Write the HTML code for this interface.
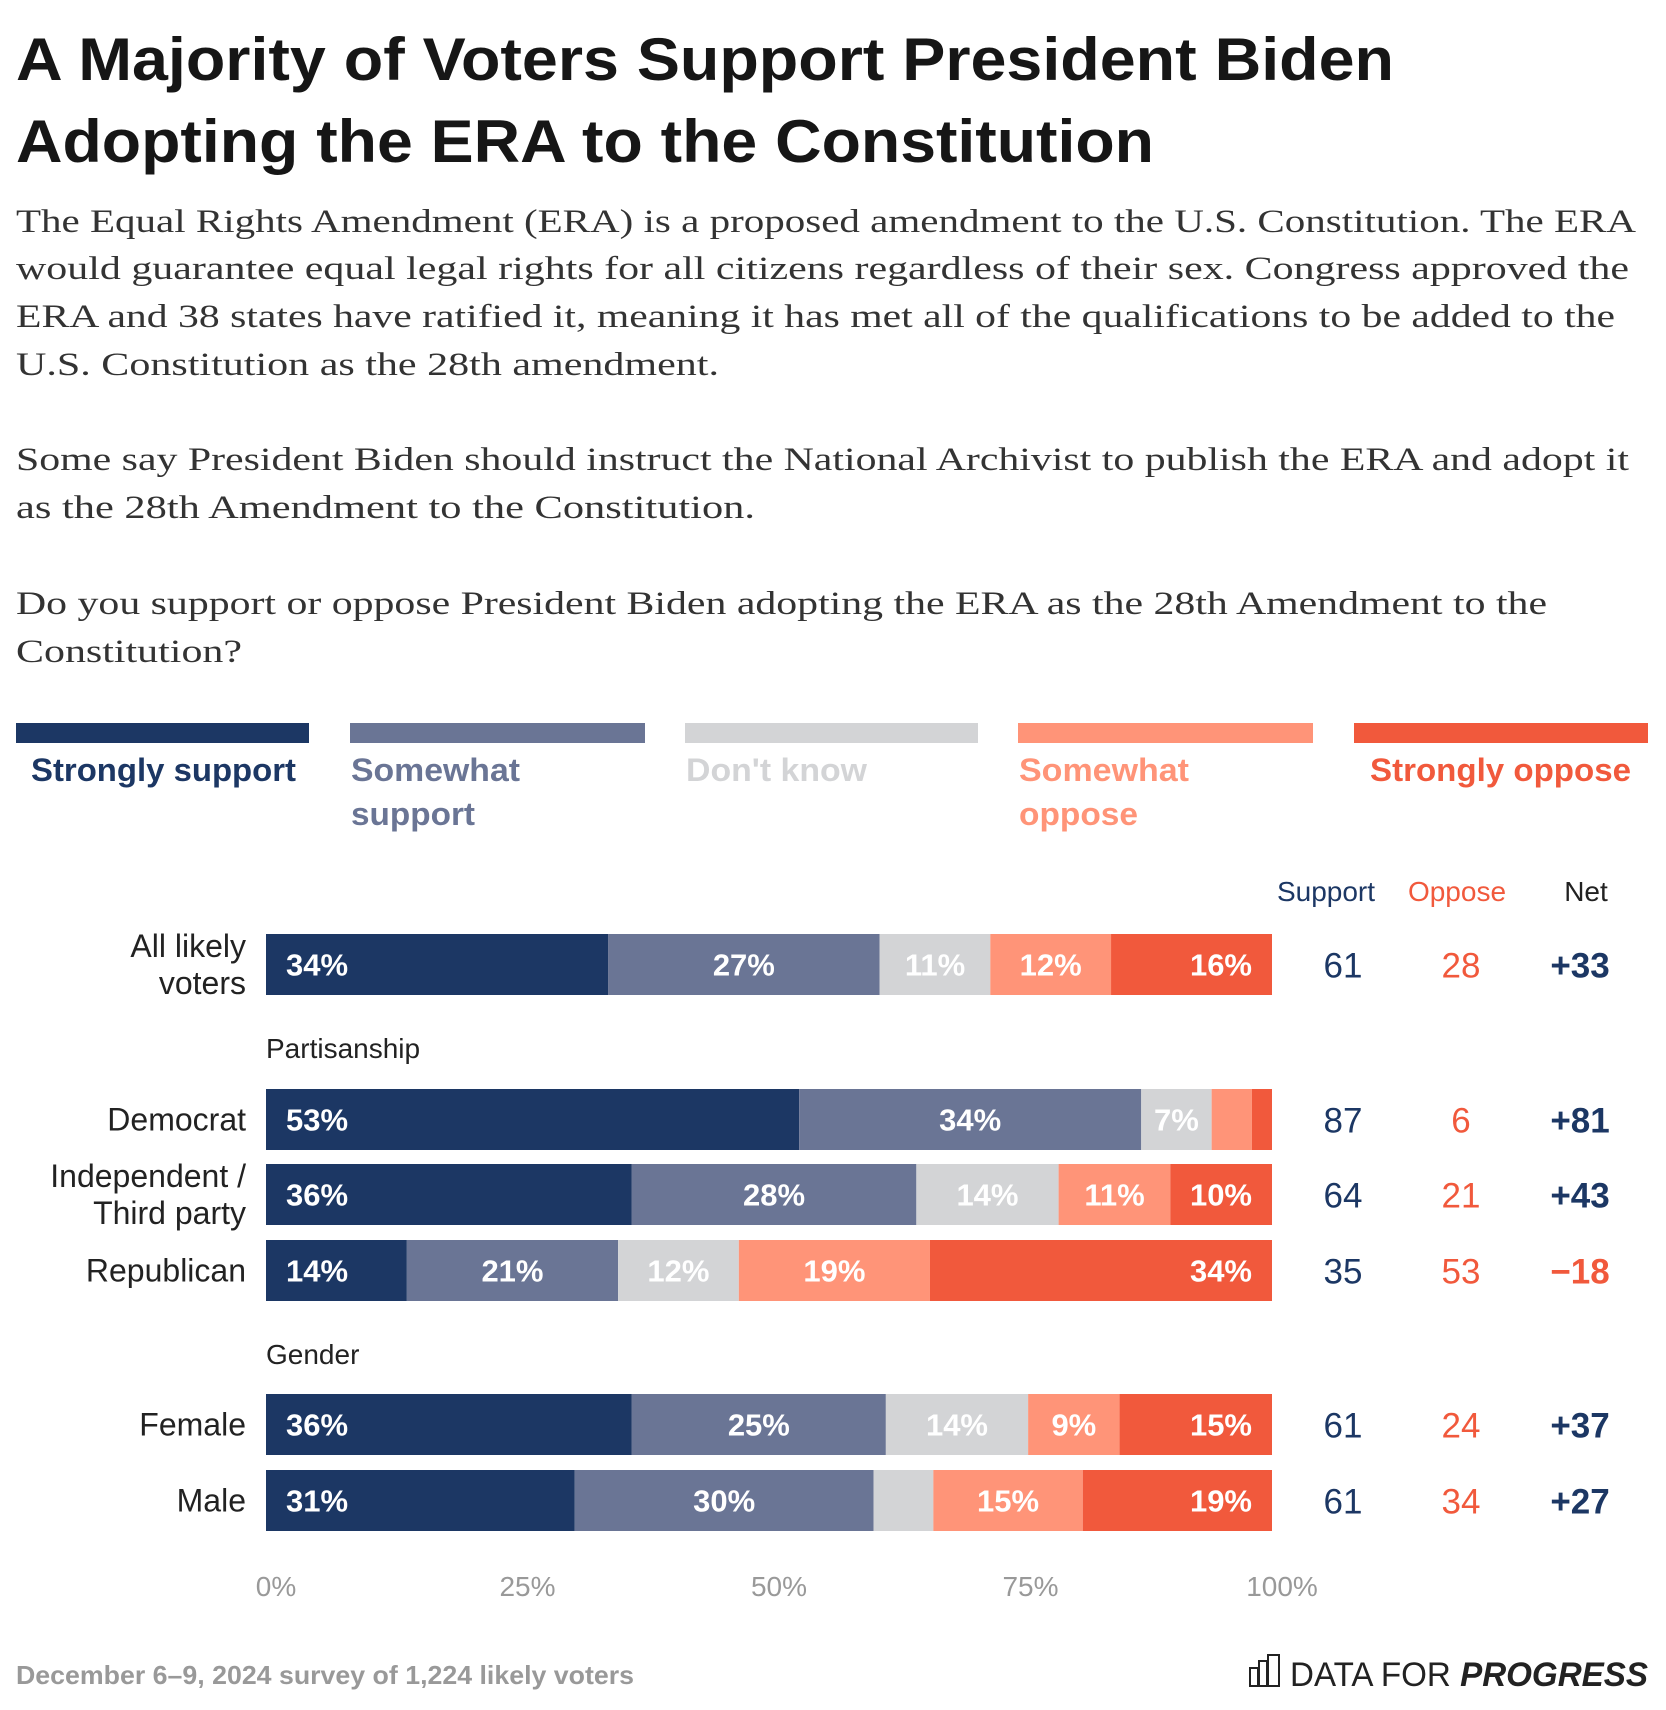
<!DOCTYPE html>
<html><head><meta charset="utf-8"><style>
html,body{margin:0;padding:0;background:#fff;}
svg{display:block;}
</style></head><body>
<svg id="chart" width="1666" height="1710" viewBox="0 0 1666 1710" xmlns="http://www.w3.org/2000/svg" font-family="'Liberation Sans', sans-serif">
<g font-weight="bold" font-size="60" fill="#161616">
<text x="16" y="80" textLength="1378" lengthAdjust="spacingAndGlyphs">A Majority of Voters Support President Biden</text>
<text x="16" y="162" textLength="1138" lengthAdjust="spacingAndGlyphs">Adopting the ERA to the Constitution</text>
</g>
<g font-family="'Liberation Serif', serif" font-size="33" fill="#333">
<text x="16" y="232" textLength="1620" lengthAdjust="spacingAndGlyphs">The Equal Rights Amendment (ERA) is a proposed amendment to the U.S. Constitution. The ERA</text>
<text x="16" y="279" textLength="1613" lengthAdjust="spacingAndGlyphs">would guarantee equal legal rights for all citizens regardless of their sex. Congress approved the</text>
<text x="16" y="327" textLength="1599" lengthAdjust="spacingAndGlyphs">ERA and 38 states have ratified it, meaning it has met all of the qualifications to be added to the</text>
<text x="16" y="375" textLength="703" lengthAdjust="spacingAndGlyphs">U.S. Constitution as the 28th amendment.</text>
<text x="16" y="470" textLength="1613" lengthAdjust="spacingAndGlyphs">Some say President Biden should instruct the National Archivist to publish the ERA and adopt it</text>
<text x="16" y="518" textLength="739" lengthAdjust="spacingAndGlyphs">as the 28th Amendment to the Constitution.</text>
<text x="16" y="614" textLength="1531" lengthAdjust="spacingAndGlyphs">Do you support or oppose President Biden adopting the ERA as the 28th Amendment to the</text>
<text x="16" y="662" textLength="226" lengthAdjust="spacingAndGlyphs">Constitution?</text>
</g>
<g id="legend" font-weight="bold" font-size="32"></g>
<g font-size="28" text-anchor="middle">
<text x="1326" y="901" fill="#1c3764">Support</text>
<text x="1457" y="901" fill="#f1593c">Oppose</text>
<text x="1586" y="901" fill="#222">Net</text>
</g>
<g font-size="28" fill="#222">
<text x="266" y="1058">Partisanship</text>
<text x="266" y="1364">Gender</text>
</g>
<g id="bars"></g>
<g id="axis" font-size="28" fill="#999" text-anchor="middle"></g>
<text x="16" y="1684" font-size="26" font-weight="bold" fill="#999" textLength="618" lengthAdjust="spacingAndGlyphs">December 6–9, 2024 survey of 1,224 likely voters</text>
<g>
<g fill="none" stroke="#222" stroke-width="2">
<rect x="1250" y="1668" width="8" height="18"/><rect x="1259" y="1661" width="8" height="25"/><rect x="1268" y="1655" width="11" height="31"/>
</g>
<text x="1290" y="1686" font-size="34" fill="#222" textLength="358" lengthAdjust="spacingAndGlyphs">DATA FOR <tspan font-weight="bold" font-style="italic">PROGRESS</tspan></text>
</g>
</svg>
<script>
const categories = ["Strongly support","Somewhat support","Don't know","Somewhat oppose","Strongly oppose"];
const colors = ["#1c3764","#6a7595","#d3d4d6","#ff9478","#f1593c"];
const rowLabels = [["All likely","voters"],["Democrat"],["Independent /","Third party"],["Republican"],["Female"],["Male"]];
const strongSupport = [34,53,36,14,36,31];
const someSupport = [27,34,28,21,25,30];
const dontKnow = [11,7,14,12,14,6];
const someOppose = [12,4,11,19,9,15];
const strongOppose = [16,2,10,34,15,19];
const supportTotals = [61,87,64,35,61,61];
const opposeTotals = [28,6,21,53,24,34];
const netValues = ["+33","+81","+43","−18","+37","+27"];
const tickLabels = ["0%","25%","50%","75%","100%"];
const tickValues = [0,25,50,75,100];
const rowTops = [934,1089,1164,1240,1394,1470];

const NS="http://www.w3.org/2000/svg";
const X0=266, X1=1272, BH=61;
const x = v => X0 + (X1-X0)*v/100;
function mk(tag, attrs, parent){const e=document.createElementNS(NS,tag);for(const k in attrs)e.setAttribute(k,attrs[k]);parent.appendChild(e);return e;}

// legend
const legend=document.getElementById('legend');
const legX=[16,350,685,1018,1354], legW=[293,295,293,295,294];
const legLines=[["Strongly support"],["Somewhat","support"],["Don't know"],["Somewhat","oppose"],["Strongly oppose"]];
const legLen=[[265],[169,124],[181],[170,119],[261]];
categories.forEach((c,i)=>{
  const r=mk('rect',{x:legX[i],y:723,width:legW[i],height:20,fill:colors[i]},legend);
  
  
  legLines[i].forEach((t,j)=>{
    const tx=mk('text',{x:i===0?31:(i===4?legX[i]+16:legX[i]+1),y:781+j*44,fill:colors[i],textLength:legLen[i][j],lengthAdjust:'spacingAndGlyphs'},legend);
    tx.textContent=t;
    
    
  });
});

// bars
const bars=document.getElementById('bars');
const series=[strongSupport,someSupport,dontKnow,someOppose,strongOppose];
rowLabels.forEach((lab,r)=>{
  const top=rowTops[r], cy=top+BH/2;
  const total=series.reduce((s,a)=>s+a[r],0);
  let acc=0;
  series.forEach((arr,k)=>{
    const v=arr[r], a=x(acc/total*100), b=x((acc+v)/total*100);
    const rect=mk('rect',{x:a,y:top,width:b-a,height:BH,fill:colors[k]},bars);
    
    
    if(v>=7){
      let tx,anchor;
      if(k===0){tx=a+20;anchor='start';}else if(k===4){tx=b-20;anchor='end';}else{tx=(a+b)/2;anchor='middle';}
      const t=mk('text',{x:tx,y:cy+11,'text-anchor':anchor,'font-size':31,'font-weight':'bold',fill:'#fff'},bars);
      t.textContent=v+'%';
      
      
    }
    acc+=v;
  });
  const n=lab.length;
  lab.forEach((t,j)=>{
    const e=mk('text',{x:246,y:cy+11+(j-(n-1)/2)*37,'text-anchor':'end','font-size':32,fill:'#222'},bars);
    e.textContent=t;
    
    
  });
  const s=mk('text',{x:1343,y:cy+13,'text-anchor':'middle','font-size':35,fill:'#1c3764'},bars);
  s.textContent=supportTotals[r];
  
  
  const o=mk('text',{x:1461,y:cy+13,'text-anchor':'middle','font-size':35,fill:'#f1593c'},bars);
  o.textContent=opposeTotals[r];
  
  
  const nt=mk('text',{x:1580,y:cy+13,'text-anchor':'middle','font-size':35,'font-weight':'bold',fill:netValues[r].startsWith('+')?'#1c3764':'#f1593c'},bars);
  nt.textContent=netValues[r];
  
  
});

// axis
const axis=document.getElementById('axis');
tickValues.forEach((v,i)=>{
  const t=mk('text',{x:x(v)+10,y:1596},axis);
  t.textContent=tickLabels[i];
  
  
});
</script>
</body></html>
